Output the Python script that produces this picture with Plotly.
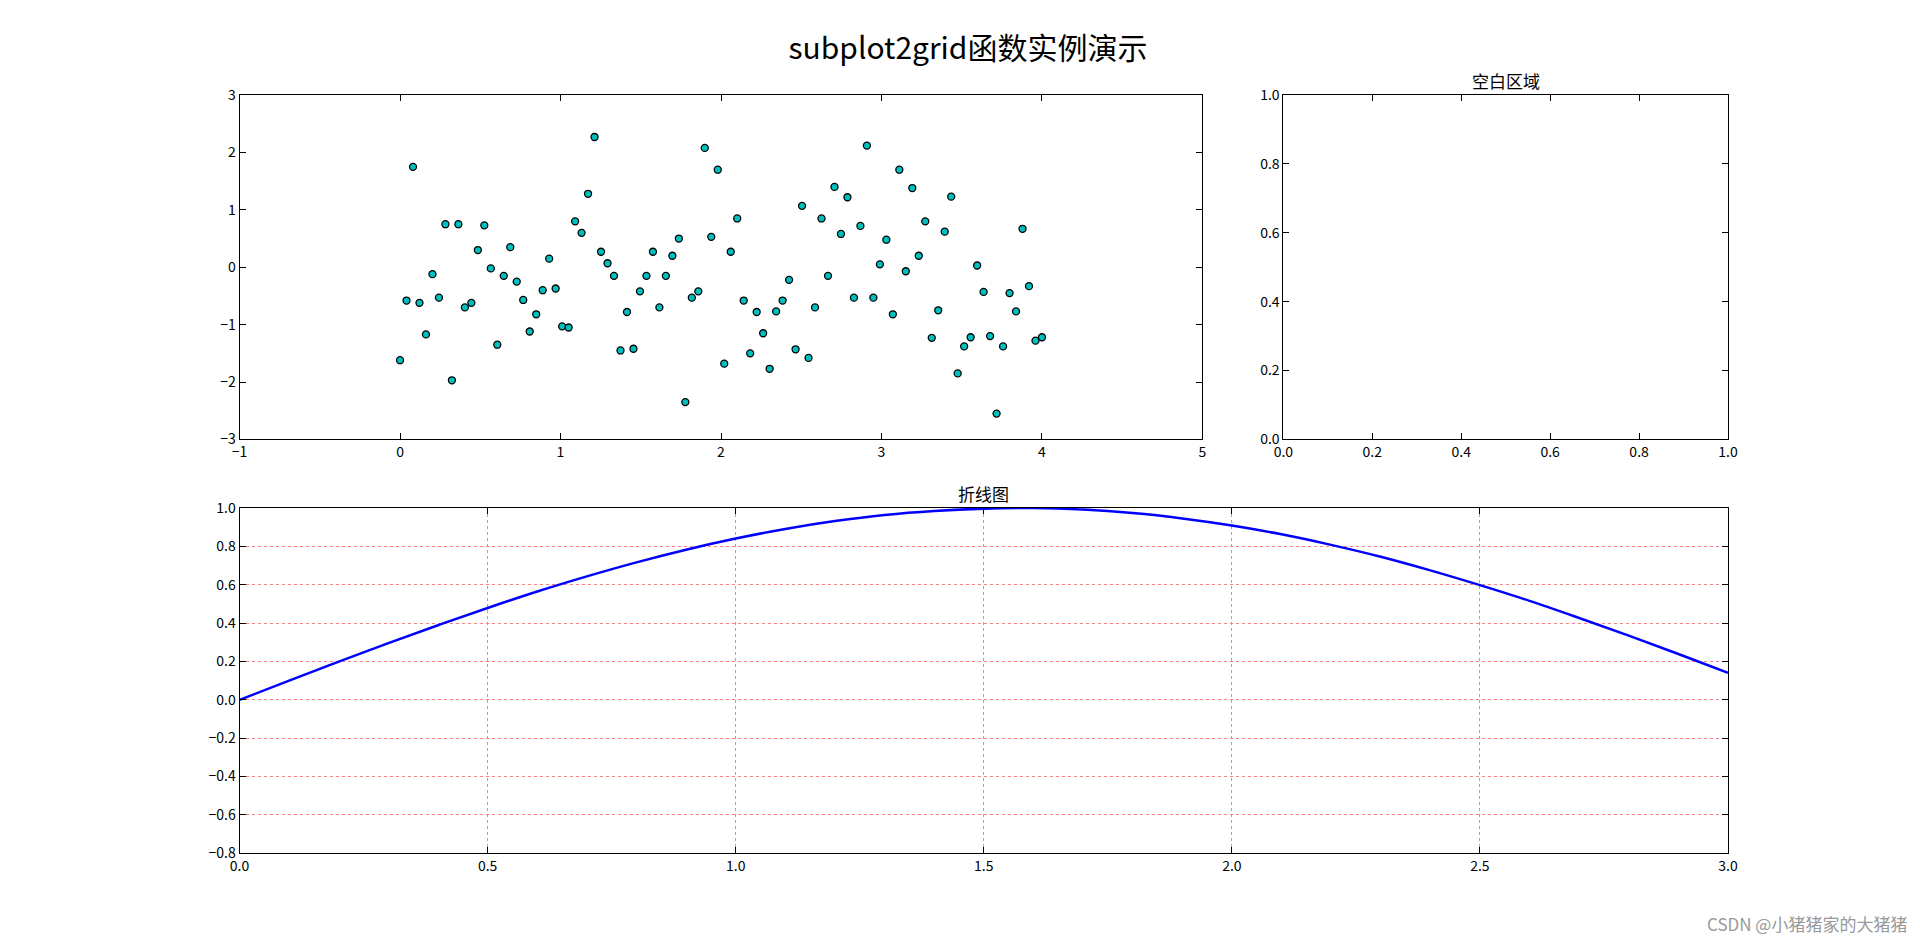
import numpy as np
import plotly.graph_objects as go

# scatter data (top-left panel)
scatter_x = np.linspace(0, 4, 100)
scatter_y = [-1.62, -0.58, 1.75, -0.62, -1.17, -0.12, -0.53, 0.75, -1.97, 0.75,
             -0.70, -0.62, 0.30, 0.73, -0.02, -1.35, -0.15, 0.35, -0.25, -0.57,
             -1.12, -0.82, -0.40, 0.15, -0.37, -1.03, -1.05, 0.80, 0.60, 1.28,
             2.27, 0.27, 0.07, -0.15, -1.45, -0.78, -1.42, -0.42, -0.15, 0.27,
             -0.70, -0.15, 0.20, 0.50, -2.35, -0.53, -0.42, 2.08, 0.53, 1.70,
             -1.68, 0.27, 0.85, -0.58, -1.50, -0.78, -1.15, -1.77, -0.77, -0.58,
             -0.22, -1.43, 1.07, -1.58, -0.70, 0.85, -0.15, 1.40, 0.58, 1.22,
             -0.53, 0.72, 2.12, -0.53, 0.05, 0.48, -0.82, 1.70, -0.07, 1.38,
             0.20, 0.80, -1.23, -0.75, 0.62, 1.23, -1.85, -1.38, -1.22, 0.03,
             -0.43, -1.20, -2.55, -1.38, -0.45, -0.77, 0.67, -0.33, -1.28, -1.22]

# line data (bottom panel)
line_x = [0.0, 0.1, 0.2, 0.3, 0.4, 0.5, 0.6, 0.7, 0.8, 0.9, 1.0, 1.1, 1.2, 1.3, 1.4, 1.5,
          1.6, 1.7, 1.8, 1.9, 2.0, 2.1, 2.2, 2.3, 2.4, 2.5, 2.6, 2.7, 2.8, 2.9, 3.0]
line_y = [0.0, 0.10, 0.199, 0.296, 0.389, 0.479, 0.565, 0.644, 0.717, 0.783, 0.841, 0.891,
          0.932, 0.964, 0.985, 0.997, 1.0, 0.992, 0.974, 0.946, 0.909, 0.863, 0.808, 0.746,
          0.675, 0.598, 0.516, 0.427, 0.335, 0.239, 0.141]

FONT = "Noto Sans CJK SC, DejaVu Sans"

fig = go.Figure()
fig.add_trace(go.Scatter(x=scatter_x, y=scatter_y, mode="markers", xaxis="x", yaxis="y",
                         marker=dict(size=7, color="#00bfbf", line=dict(color="black", width=1.3))))
fig.add_trace(go.Scatter(x=[None], y=[None], xaxis="x2", yaxis="y2", showlegend=False))
fig.add_trace(go.Scatter(x=line_x, y=line_y, mode="lines", line=dict(color="blue", width=2.5, shape="spline"),
                         xaxis="x3", yaxis="y3"))

ax = dict(showline=True, linecolor="black", linewidth=1, mirror="ticks", ticks="inside",
          ticklen=6, tickcolor="black", showgrid=False, zeroline=False,
          tickfont=dict(size=14, color="black"))
grid = dict(showgrid=True, gridcolor="#ff8080", griddash="dot", gridwidth=1)

fig.update_layout(
    width=1920, height=948, showlegend=False, plot_bgcolor="white", paper_bgcolor="white",
    margin=dict(l=0, r=0, t=0, b=0),
    font=dict(family=FONT, color="black"),
    title=dict(text="subplot2grid函数实例演示", x=0.5, y=0.968, xanchor="center",
               font=dict(size=30, family="Noto Sans CJK SC")),
    xaxis=dict(ax, domain=[0.1166, 0.6234], range=[-1, 5], dtick=1, anchor="y"),
    yaxis=dict(ax, domain=[0.547, 0.918], range=[-3, 3], dtick=1, anchor="x"),
    xaxis2=dict(ax, domain=[0.666, 0.9], range=[0, 1], dtick=0.2, tickformat=".1f", anchor="y2"),
    yaxis2=dict(ax, domain=[0.547, 0.918], range=[0, 1], dtick=0.2, tickformat=".1f", anchor="x2"),
    xaxis3=dict(ax, **grid, domain=[0.1166, 0.9], range=[0, 3], dtick=0.5, tickformat=".1f", anchor="y3"),
    yaxis3=dict(ax, **grid, domain=[0.101, 0.473], range=[-0.8, 1.0], dtick=0.2, tickformat=".1f", anchor="x3"),
    annotations=[
        dict(text="空白区域", x=0.783, y=0.918, xref="paper", yref="paper", xanchor="center",
             yanchor="bottom", showarrow=False, font=dict(size=17)),
        dict(text="折线图", x=0.508, y=0.473, xref="paper", yref="paper", xanchor="center",
             yanchor="bottom", showarrow=False, font=dict(size=17)),
        dict(text="CSDN @小猪猪家的大猪猪", x=0.995, y=0.01, xref="paper", yref="paper", xanchor="right",
             yanchor="bottom", showarrow=False, font=dict(size=17, color="#999999")),
    ],
)

fig.write_html("out.html")
